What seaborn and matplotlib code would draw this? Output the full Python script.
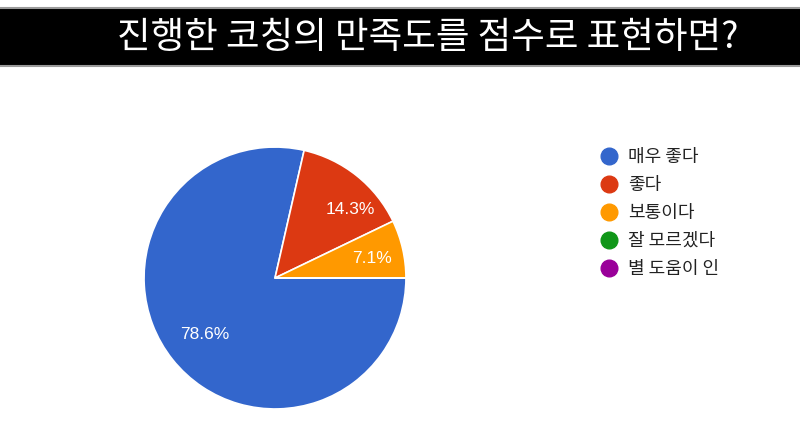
# 코칭 만족도 파이 차트
import numpy as np
import seaborn as sns
import matplotlib.pyplot as plt
from matplotlib.lines import Line2D
from matplotlib.patches import Rectangle

# Data

title = "진행한 코칭의 만족도를 점수로 표현하면?"
labels = ["매우 좋다", "좋다", "보통이다", "잘 모르겠다", "별 도움이 인"]
counts = [11, 2, 1, 0, 0]
colors = ["#3366cc", "#dc3912", "#ff9900", "#109618", "#990099"]

sns.set_theme(style="white")
plt.rcParams["font.family"] = ["Noto Sans CJK KR", "DejaVu Sans"]

fig = plt.figure(figsize=(8, 4.42), dpi=100)

# Title bar
fig.patches.append(Rectangle((-0.01, 1 - 66 / 442), 1.02, 58 / 442, transform=fig.transFigure,
                             facecolor="black", edgecolor="#9a9a9a", linewidth=1.5))
fig.text(117 / 800, 1 - 38 / 442, title, color="white", fontsize=26.3,
         fontweight="light", va="center", ha="left")

# Pie
ax = fig.add_axes([137.5 / 800, 26.5 / 442, 275 / 800, 275 / 442])

def pct(p):
    return f"{p:.1f}%" if p > 0 else ""

wedges, texts, autotexts = ax.pie(counts, colors=colors, startangle=0, counterclock=False,
                                  autopct=pct, pctdistance=1.0,
                                  wedgeprops=dict(edgecolor="white", linewidth=1.2))

# label distance from centre and small nudge, per slice
label_dist = [0.69, 0.78, 0.76, 0, 0]
label_shift = [(0, 0), (0.09, -0.085), (0, -0.02), (0, 0), (0, 0)]
for t, d, s in zip(autotexts, label_dist, label_shift):
    x, y = t.get_position()
    t.set_position((x * d + s[0], y * d + s[1]))
    t.set_color("white")
    t.set_fontsize(12.5)
    t.set_family(["Liberation Sans", "DejaVu Sans"])
ax.set_xlim(-1.05, 1.05)
ax.set_ylim(-1.05, 1.05)
ax.set_aspect("equal")
ax.axis("off")

# Legend
handles = [Line2D([], [], marker="o", linestyle="", markersize=12,
                  markerfacecolor=c, markeredgecolor=c) for c in colors]
fig.legend(handles, labels, loc="upper left", bbox_to_anchor=(584 / 800, 1 - 141 / 442),
           frameon=False, fontsize=13, labelcolor="#222222", handletextpad=0.05,
           labelspacing=0.55, borderaxespad=0)

fig.savefig("out.png", dpi=100)
